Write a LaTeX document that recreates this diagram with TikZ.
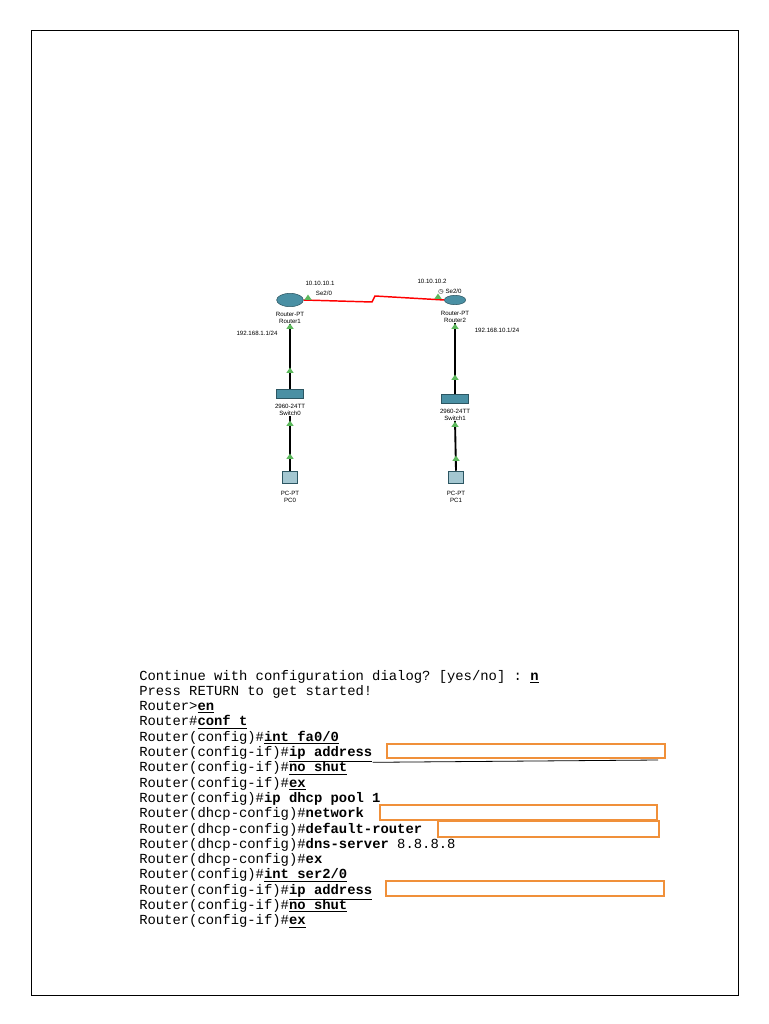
\documentclass[tikz,border=0pt]{standalone}
\usepackage{fontspec}
\setmainfont{Liberation Sans}
\setmonofont{Liberation Mono}
\newfontfamily\dejavu{DejaVu Sans}
\usetikzlibrary{shapes.geometric}
\definecolor{cyanic}{HTML}{4A90A4}
\definecolor{orng}{HTML}{F0903A}
\definecolor{grn}{HTML}{5CB85C}
\tikzset{
 lbl/.style={font=\fontsize{4.6}{5.2}\selectfont, align=center, inner sep=0pt},
 cli/.style={anchor=base west, inner sep=0pt, font=\ttfamily\fontsize{10.4}{12}\selectfont},
 blank/.style={draw=orng, line width=1.3pt},
 tri/.style={fill=grn, isosceles triangle, shape border rotate=90, minimum size=4pt, inner sep=0pt, isosceles triangle apex angle=70},
 cable/.style={line width=1.4pt},
 swbox/.style={fill=cyanic, draw=cyanic!60!black, minimum width=20pt, minimum height=7pt, inner sep=0pt}
}
\newcommand{\bu}[1]{\underline{\textbf{#1}}}
\begin{document}
\begin{tikzpicture}[x=0.75pt,y=-0.75pt]
\useasboundingbox (0,0) rectangle (768,1024);
\fill[white] (0,0) rectangle (768,1024);
\draw[line width=0.7pt] (31,30) rectangle (738,995);
% routers
\node[ellipse, fill=cyanic, draw=cyanic!60!black, minimum width=20pt, minimum height=10pt, inner sep=0pt] (r1) at (290,300) {};
\node[ellipse, fill=cyanic, draw=cyanic!60!black, minimum width=16pt, minimum height=7pt, inner sep=0pt] (r2) at (455,300) {};
\node[lbl] (r1l) at (290,318) {Router-PT\\Router1};
\node[lbl] (r2l) at (455,317) {Router-PT\\Router2};
\node[lbl] (ip1) at (320,283) {10.10.10.1};
\node[lbl] (se1) at (324,293) {Se2/0};
\node[lbl] (ip2) at (432,281) {10.10.10.2};
\node[lbl] (se2) at (450,292) {{\dejavu ◷} Se2/0};
\node[lbl] (n1) at (257,333) {192.168.1.1/24};
\node[lbl] (n2) at (497,330) {192.168.10.1/24};
% switches
\node[swbox] (s0) at (290,394) {};
\node[swbox] (s1) at (455,399) {};
\node[lbl] (s0l) at (290,410) {2960-24TT\\Switch0};
\node[lbl] (s1l) at (455,415) {2960-24TT\\Switch1};
% PCs
\node[draw=cyanic!60!black, fill=cyanic!50, minimum width=11pt, minimum height=9pt, inner sep=0pt] (pc0) at (290,477) {};
\node[draw=cyanic!60!black, fill=cyanic!50, minimum width=11pt, minimum height=9pt, inner sep=0pt] (pc1) at (456,477) {};
\node[lbl] (p0l) at (290,497) {PC-PT\\PC0};
\node[lbl] (p1l) at (456,497) {PC-PT\\PC1};
% cables
\draw[cable] (r1l.south) -- (s0.north);
\draw[cable] (s0l.south) -- (pc0.north);
\draw[cable] (r2l.south) -- (s1.north);
\draw[cable] (s1l.south) -- (pc1.north);
\coordinate (z1) at (372,302); \coordinate (z2) at (375,296);
\draw[red, line width=1.1pt] (r1.east) -- (z1) -- (z2) -- (r2.west);
\foreach \p in {(290,327),(290,371),(290,424),(290,457),(455,327),(455,378),(455,425),(456,459),(308,298),(438,297)}
  \node[tri] at \p {};
% CLI
\foreach \t [count=\i from 0] in {
 {Continue with configuration dialog? [yes/no] : \bu{n}},
 {Press RETURN to get started!},
 {Router>\bu{en}},
 {Router\#\bu{conf t}},
 {Router(config)\#\bu{int fa0/0}},
 {Router(config-if)\#\bu{ip address}},
 {Router(config-if)\#\bu{no shut}},
 {Router(config-if)\#\bu{ex}},
 {Router(config)\#\textbf{ip dhcp pool 1}},
 {Router(dhcp-config)\#\textbf{network}},
 {Router(dhcp-config)\#\textbf{default-router}},
 {Router(dhcp-config)\#\textbf{dns-server} 8.8.8.8},
 {Router(dhcp-config)\#\textbf{ex}},
 {Router(config)\#\bu{int ser2/0}},
 {Router(config-if)\#\bu{ip address}},
 {Router(config-if)\#\bu{no shut}},
 {Router(config-if)\#\bu{ex}}}
 \node[cli] (c\i) at (139,{680+15.3*\i}) {\t};
\draw[blank] (387,744) rectangle (665,758);
\draw[line width=0.6pt] (c5.south east) -- (658,760);
\draw[blank] (380,805) rectangle (657,820);
\draw[blank] (438,821) rectangle (659,837);
\draw[blank] (386,881) rectangle (664,896);
\end{tikzpicture}
\end{document}
